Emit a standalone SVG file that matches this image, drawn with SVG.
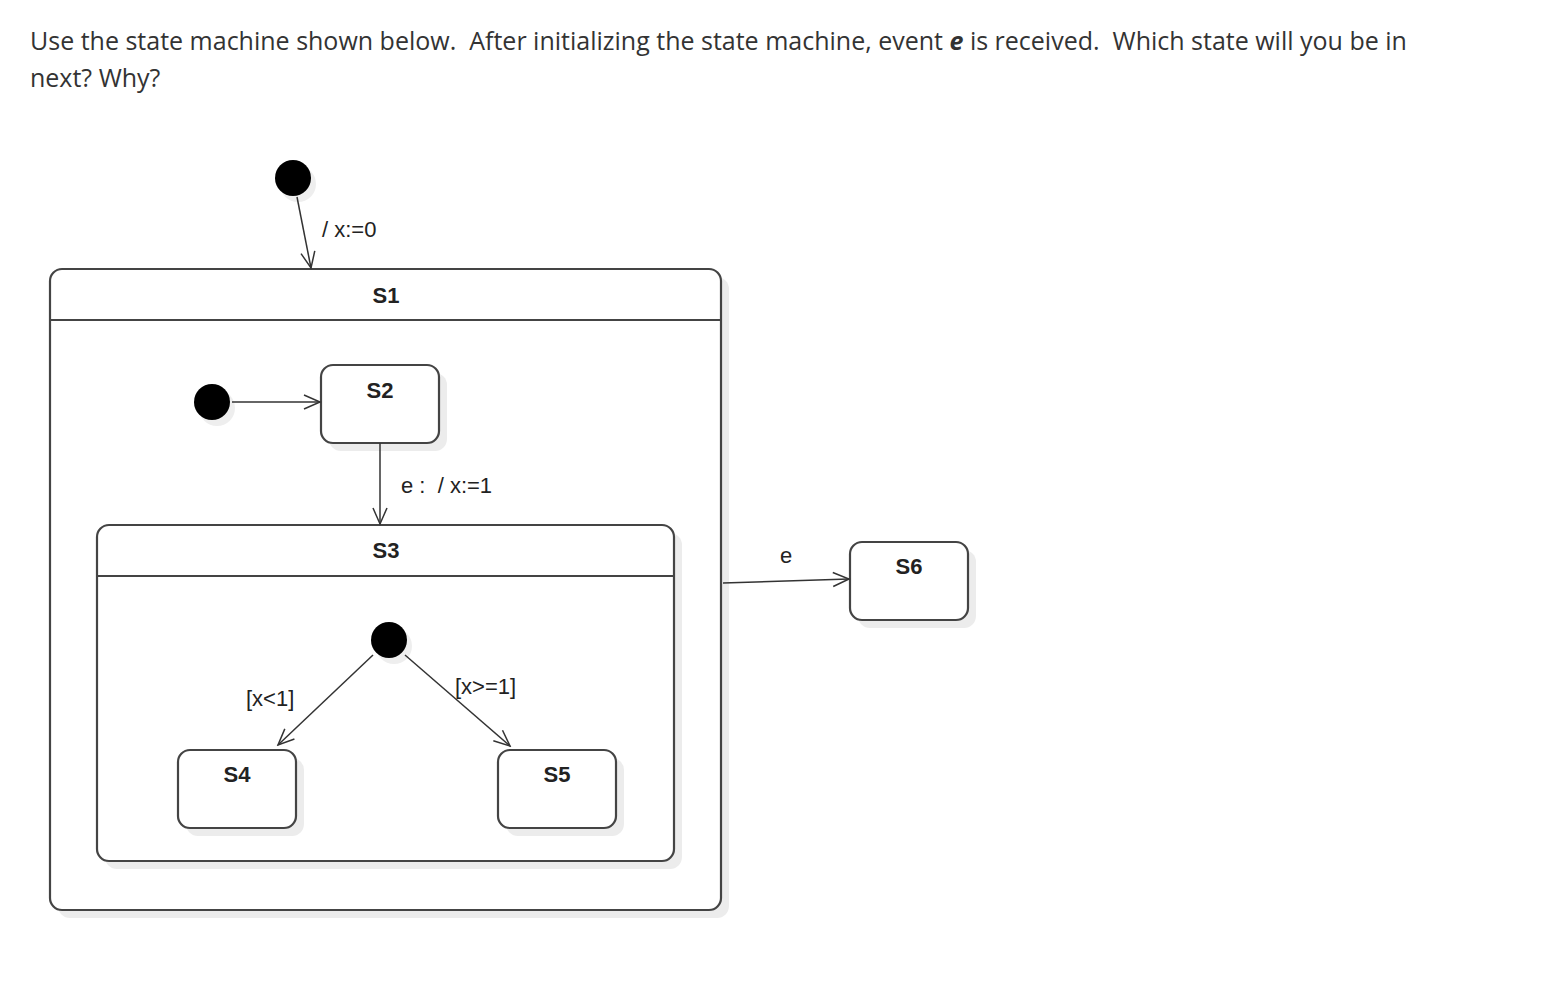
<svg xmlns="http://www.w3.org/2000/svg" width="1566" height="982" viewBox="0 0 1566 982" xml:space="preserve">
<style>
.q{font-family:"Open Sans","Noto Sans",sans-serif;font-size:25px;fill:#333;white-space:pre}
.st{fill:#fff;stroke:#444;stroke-width:2.2}
.sh{fill:#ececec}
.n{font-family:"Liberation Sans",Arial,sans-serif;font-size:22px;font-weight:bold;fill:#222;text-anchor:middle}
.l{font-family:"Liberation Sans",Arial,sans-serif;font-size:22px;fill:#222;white-space:pre}
.c{stroke:#333;stroke-width:1.5;fill:none;marker-end:url(#a)}
</style>
<defs><marker id="a" viewBox="0 0 20 20" refX="18" refY="10" markerWidth="20" markerHeight="20" markerUnits="userSpaceOnUse" orient="auto"><path d="M2 3 L18 10 L2 17" fill="none" stroke="#333" stroke-width="1.5"/></marker></defs>
<rect width="1566" height="982" fill="#fff"/>
<text class="q" x="30" y="50">Use the state machine shown below.  After initializing the state machine, event <tspan font-style="italic" font-weight="bold">e</tspan> is received.  Which state will you be in</text>
<text class="q" x="30" y="87">next? Why?</text>
<g id="S1"><rect class="sh" x="58" y="277" width="671" height="641" rx="12"/><rect class="st" x="50" y="269" width="671" height="641" rx="12"/><line x1="50" y1="320" x2="721" y2="320" stroke="#444" stroke-width="2.2"/><text class="n" x="386" y="303">S1</text></g>
<g id="init0"><circle cx="298" cy="184" r="18" fill="#eee"/><circle cx="293" cy="178" r="18" fill="#000"/></g>
<g id="S2"><rect class="sh" x="329" y="373" width="118" height="78" rx="12"/><rect class="st" x="321" y="365" width="118" height="78" rx="12"/><text class="n" x="380" y="398">S2</text></g>
<g id="init1"><circle cx="217" cy="408" r="18" fill="#eee"/><circle cx="212" cy="402" r="18" fill="#000"/></g>
<g id="S3"><rect class="sh" x="105" y="533" width="577" height="336" rx="12"/><rect class="st" x="97" y="525" width="577" height="336" rx="12"/><line x1="97" y1="576" x2="674" y2="576" stroke="#444" stroke-width="2.2"/><text class="n" x="386" y="558">S3</text></g>
<g id="init2"><circle cx="394" cy="646" r="18" fill="#eee"/><circle cx="389" cy="640" r="18" fill="#000"/></g>
<g id="S4"><rect class="sh" x="186" y="758" width="118" height="78" rx="12"/><rect class="st" x="178" y="750" width="118" height="78" rx="12"/><text class="n" x="237" y="782">S4</text></g>
<g id="S5"><rect class="sh" x="506" y="758" width="118" height="78" rx="12"/><rect class="st" x="498" y="750" width="118" height="78" rx="12"/><text class="n" x="557" y="782">S5</text></g>
<g id="S6"><rect class="sh" x="858" y="550" width="118" height="78" rx="12"/><rect class="st" x="850" y="542" width="118" height="78" rx="12"/><text class="n" x="909" y="574">S6</text></g>
<g id="connectors">
<line class="c" x1="297" y1="197" x2="311" y2="268"/><text class="l" x="322" y="237">/ x:=0</text>
<line class="c" x1="232" y1="402" x2="320" y2="402"/>
<line class="c" x1="380" y1="443" x2="380" y2="524"/><text class="l" x="401" y="493">e :  / x:=1</text>
<line class="c" x1="373" y1="655" x2="278" y2="745"/><text class="l" x="246" y="706">[x&lt;1]</text>
<line class="c" x1="405" y1="655" x2="510" y2="746"/><text class="l" x="455" y="694">[x&gt;=1]</text>
<line class="c" x1="723" y1="583" x2="849" y2="579"/><text class="l" x="780" y="563">e</text>
</g>
</svg>
